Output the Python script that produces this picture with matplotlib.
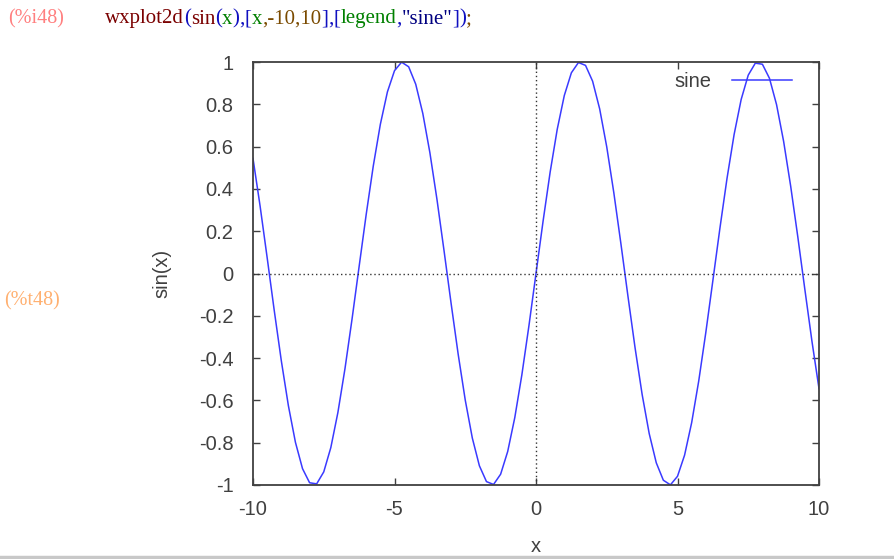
import matplotlib
matplotlib.use("Agg")
import matplotlib.pyplot as plt

# sampled values of the plotted curve, x from -10 to 10 in steps of 0.25
x_pos = [i * 0.25 for i in range(41)]
y_pos = [0.0, 0.2474, 0.4794, 0.6816, 0.8415, 0.9490, 0.9975, 0.9840, 0.9093,
         0.7781, 0.5985, 0.3817, 0.1411, -0.1082, -0.3508, -0.5716, -0.7568,
         -0.8950, -0.9775, -0.9993, -0.9589, -0.8589, -0.7055, -0.5083, -0.2794,
         -0.0332, 0.2151, 0.4500, 0.6570, 0.8231, 0.9380, 0.9946, 0.9894,
         0.9228, 0.7985, 0.6247, 0.4121, 0.1743, -0.0752, -0.3195, -0.5440]
xs = [-v for v in x_pos[:0:-1]] + x_pos
ys = [-v for v in y_pos[:0:-1]] + y_pos

x_ticks = [-10, -5, 0, 5, 10]
x_labels = ["-10", "-5", "0", "5", "10"]
y_ticks = [-1, -0.8, -0.6, -0.4, -0.2, 0, 0.2, 0.4, 0.6, 0.8, 1]
y_labels = ["-1", "-0.8", "-0.6", "-0.4", "-0.2", "0", "0.2", "0.4", "0.6", "0.8", "1"]

# input line pieces: (text, colour)
cmd_parts = [("wxplot2d", "#7a0000"), ("(", "#1010c0"), ("sin", "#7a0000"),
             ("(", "#1010c0"), ("x", "#008000"), (")", "#1010c0"), (",", "#1010c0"),
             ("[", "#1010c0"), ("x", "#008000"), (",-10,10", "#7a4a00"),
             ("]", "#1010c0"), (",", "#1010c0"), ("[", "#1010c0"),
             ("legend", "#008000"), (",", "#1010c0"), ('"sine"', "#000080"),
             ("]", "#1010c0"), (")", "#1010c0"), (";", "#7a4a00")]

W, H = 894, 559
FS = 14.5
CFS = 15.05
fig = plt.figure(figsize=(W / 100, H / 100), dpi=100)
fig.patch.set_facecolor("white")

# wxMaxima cell labels
fig.text(8 / W, 1 - 19 / H, "(%i48)", family="Liberation Serif", fontsize=14.5,
         color="#ff8080", va="center")
fig.text(4 / W, 1 - 301 / H, "(%t48)", family="Liberation Serif", fontsize=14.5,
         color="#ffb070", va="center")

r = fig.canvas.get_renderer()


def text_w(s):
    tmp = fig.text(0, 0, s, family="Liberation Serif", fontsize=CFS)
    w = tmp.get_window_extent(renderer=r).width
    tmp.remove()
    return w


prefix = ""
for txt, col in cmd_parts:
    off = text_w(prefix + "H") - text_w("H") if prefix else 0
    fig.text((105 + off) / W, 1 - 19 / H, txt, family="Liberation Serif",
             fontsize=CFS, color=col, va="center")
    prefix += txt

# bottom separator
fig.add_artist(plt.Line2D([0, 1], [1 - 557 / H, 1 - 557 / H], color="#c8c8c8",
                          lw=2.5, transform=fig.transFigure))

ax = fig.add_axes([253 / W, 1 - 485 / H, 566 / W, 423 / H])
ax.plot(xs, ys, color="#3a3aff", lw=1.1, label="sine")
ax.axhline(0, color="#333333", lw=1, ls=(0, (1, 2)))
ax.axvline(0, color="#333333", lw=1, ls=(0, (1, 2)))

ax.set_xlim(-10, 10)
ax.set_ylim(-1, 1)
ax.set_xticks(x_ticks, x_labels)
ax.set_yticks(y_ticks, y_labels)
ax.tick_params(direction="in", length=5, width=1, color="#404040",
               top=True, right=True, labelsize=FS, labelcolor="#404040")
ax.tick_params(axis="x", pad=11)
ax.tick_params(axis="y", pad=14)
for lab in ax.get_xticklabels() + ax.get_yticklabels():
    lab.set_family("Liberation Sans")
for s in ax.spines.values():
    s.set_color("#404040")
    s.set_linewidth(1.3)

ax.set_xlabel("x", family="Liberation Sans", fontsize=FS, color="#404040",
              labelpad=13)
ax.set_ylabel("sin(x)", family="Liberation Sans", fontsize=FS, color="#404040",
              labelpad=20)

leg = ax.legend(loc="upper right", frameon=False, markerfirst=False,
                handlelength=2.95, handletextpad=1.05, borderaxespad=0,
                prop={"family": "Liberation Sans", "size": FS},
                bbox_to_anchor=(0.966, 0.995))
for t in leg.get_texts():
    t.set_color("#404040")

fig.savefig("out.png", dpi=100)
